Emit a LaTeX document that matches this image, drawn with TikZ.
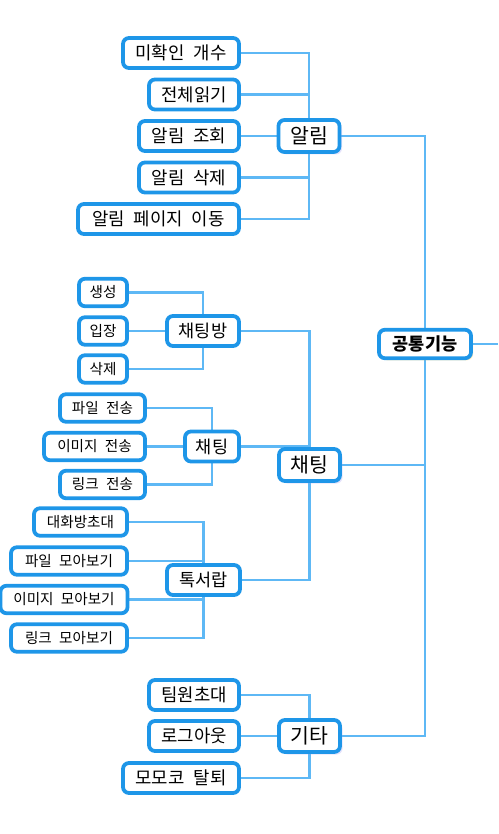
\documentclass[tikz,border=0pt]{standalone}
\usepackage{fontspec}
\setmainfont{Noto Sans CJK KR}
\usetikzlibrary{shadows,backgrounds}
\definecolor{boxc}{HTML}{1E96E8}
\definecolor{linec}{HTML}{5EB8F5}
\definecolor{glowp}{HTML}{A9A2F2}
\definecolor{glowy}{HTML}{F6CF60}
\newcommand{\wsp}{\hspace{0.5em}}
\tikzset{
  box/.style={draw=boxc, line width=3.8pt, fill=white, rounded corners=6pt, inner sep=0pt, text=black, align=center},
  conn/.style={draw=linec, line width=2.6pt},
  bigleaf/.style={box, font=\fontsize{17.8}{19}\selectfont, minimum height=30pt},
  smallleaf/.style={box, font=\fontsize{14.6}{16}\selectfont, minimum height=27.5pt},
  midnode/.style={box, font=\fontsize{17.5}{19}\selectfont, minimum height=30pt},
  topnode/.style={box, font=\fontsize{20.5}{22}\selectfont, minimum height=32pt,
    drop shadow={shadow xshift=2.5pt, shadow yshift=-2.5pt, fill=glowp, opacity=0.3, rounded corners=8pt},
    drop shadow={shadow xshift=1.2pt, shadow yshift=-1.2pt, fill=glowp, opacity=0.6, rounded corners=7pt}},
  rootnode/.style={box, font=\fontsize{17.5}{19}\selectfont\bfseries, minimum height=28.5pt,
    drop shadow={shadow xshift=2pt, shadow yshift=-2pt, fill=glowy, opacity=0.4, rounded corners=8pt},
    drop shadow={shadow xshift=1pt, shadow yshift=-1pt, fill=glowy, opacity=0.7, rounded corners=7pt}},
}
\begin{document}
\begin{tikzpicture}[x=1pt,y=-1pt]
\useasboundingbox (0,0) rectangle (498,834);
% root
\node[rootnode, minimum width=92pt] (root) at (425,344) {공통기능};
\coordinate (out) at (498,344);
% level 1
\node[topnode, minimum width=61pt] (alrim) at (309,136) {알림};
\node[topnode, minimum width=61pt] (chat) at (309.5,465) {채팅};
\node[topnode, minimum width=61pt] (etc) at (309.5,736) {기타};
% 알림 leaves
\node[bigleaf, minimum width=116pt] (a1) at (181,53) {미확인\wsp 개수};
\node[bigleaf, minimum width=90pt] (a2) at (194,94.5) {전체읽기};
\node[bigleaf, minimum width=100pt] (a3) at (189,136) {알림\wsp 조회};
\node[bigleaf, minimum width=100pt] (a4) at (189,177.5) {알림\wsp 삭제};
\node[bigleaf, minimum width=161pt] (a5) at (158.5,219) {알림\wsp 페이지\wsp 이동};
% 채팅 level 2
\node[midnode, minimum width=72pt] (room) at (203,331) {채팅방};
\node[midnode, minimum width=54pt] (chat2) at (212,446.5) {채팅};
\node[midnode, minimum width=73pt] (drawer) at (203.5,580) {톡서랍};
% 채팅방 leaves
\node[smallleaf, minimum width=48pt] (r1) at (103,292.5) {생성};
\node[smallleaf, minimum width=48pt] (r2) at (103,331) {입장};
\node[smallleaf, minimum width=48pt] (r3) at (103,369) {삭제};
% 채팅 leaves
\node[smallleaf, minimum width=85pt] (c1) at (102.5,408) {파일\wsp 전송};
\node[smallleaf, minimum width=101pt] (c2) at (94.5,446.5) {이미지\wsp 전송};
\node[smallleaf, minimum width=85pt] (c3) at (102.5,484.5) {링크\wsp 전송};
% 톡서랍 leaves
\node[smallleaf, minimum width=93pt] (d1) at (80.5,522) {대화방초대};
\node[smallleaf, minimum width=116pt] (d2) at (69,561) {파일\wsp 모아보기};
\node[smallleaf, minimum width=127pt] (d3) at (64,599.5) {이미지\wsp 모아보기};
\node[smallleaf, minimum width=116pt] (d4) at (69,638) {링크\wsp 모아보기};
% 기타 leaves
\node[bigleaf, minimum width=90pt] (e1) at (194,695) {팀원초대};
\node[bigleaf, minimum width=90pt] (e2) at (194,736) {로그아웃};
\node[bigleaf, minimum width=116pt] (e3) at (181,778) {모모코\wsp 탈퇴};
\begin{pgfonlayer}{background}
\draw[conn] (root) -- (out);
\draw[conn] (alrim) -| (root);
\draw[conn] (chat) -| (root);
\draw[conn] (etc) -| (root);
\foreach \c in {a1,a2,a3,a4,a5} \draw[conn] (\c) -| (alrim);
\foreach \c in {room,chat2,drawer} \draw[conn] (\c) -| (chat);
\foreach \c in {r1,r2,r3} \draw[conn] (\c) -| (room);
\foreach \c in {c1,c2,c3} \draw[conn] (\c) -| (chat2);
\foreach \c in {d1,d2,d3,d4} \draw[conn] (\c) -| (drawer);
\foreach \c in {e1,e2,e3} \draw[conn] (\c) -| (etc);
\end{pgfonlayer}
\end{tikzpicture}
\end{document}
